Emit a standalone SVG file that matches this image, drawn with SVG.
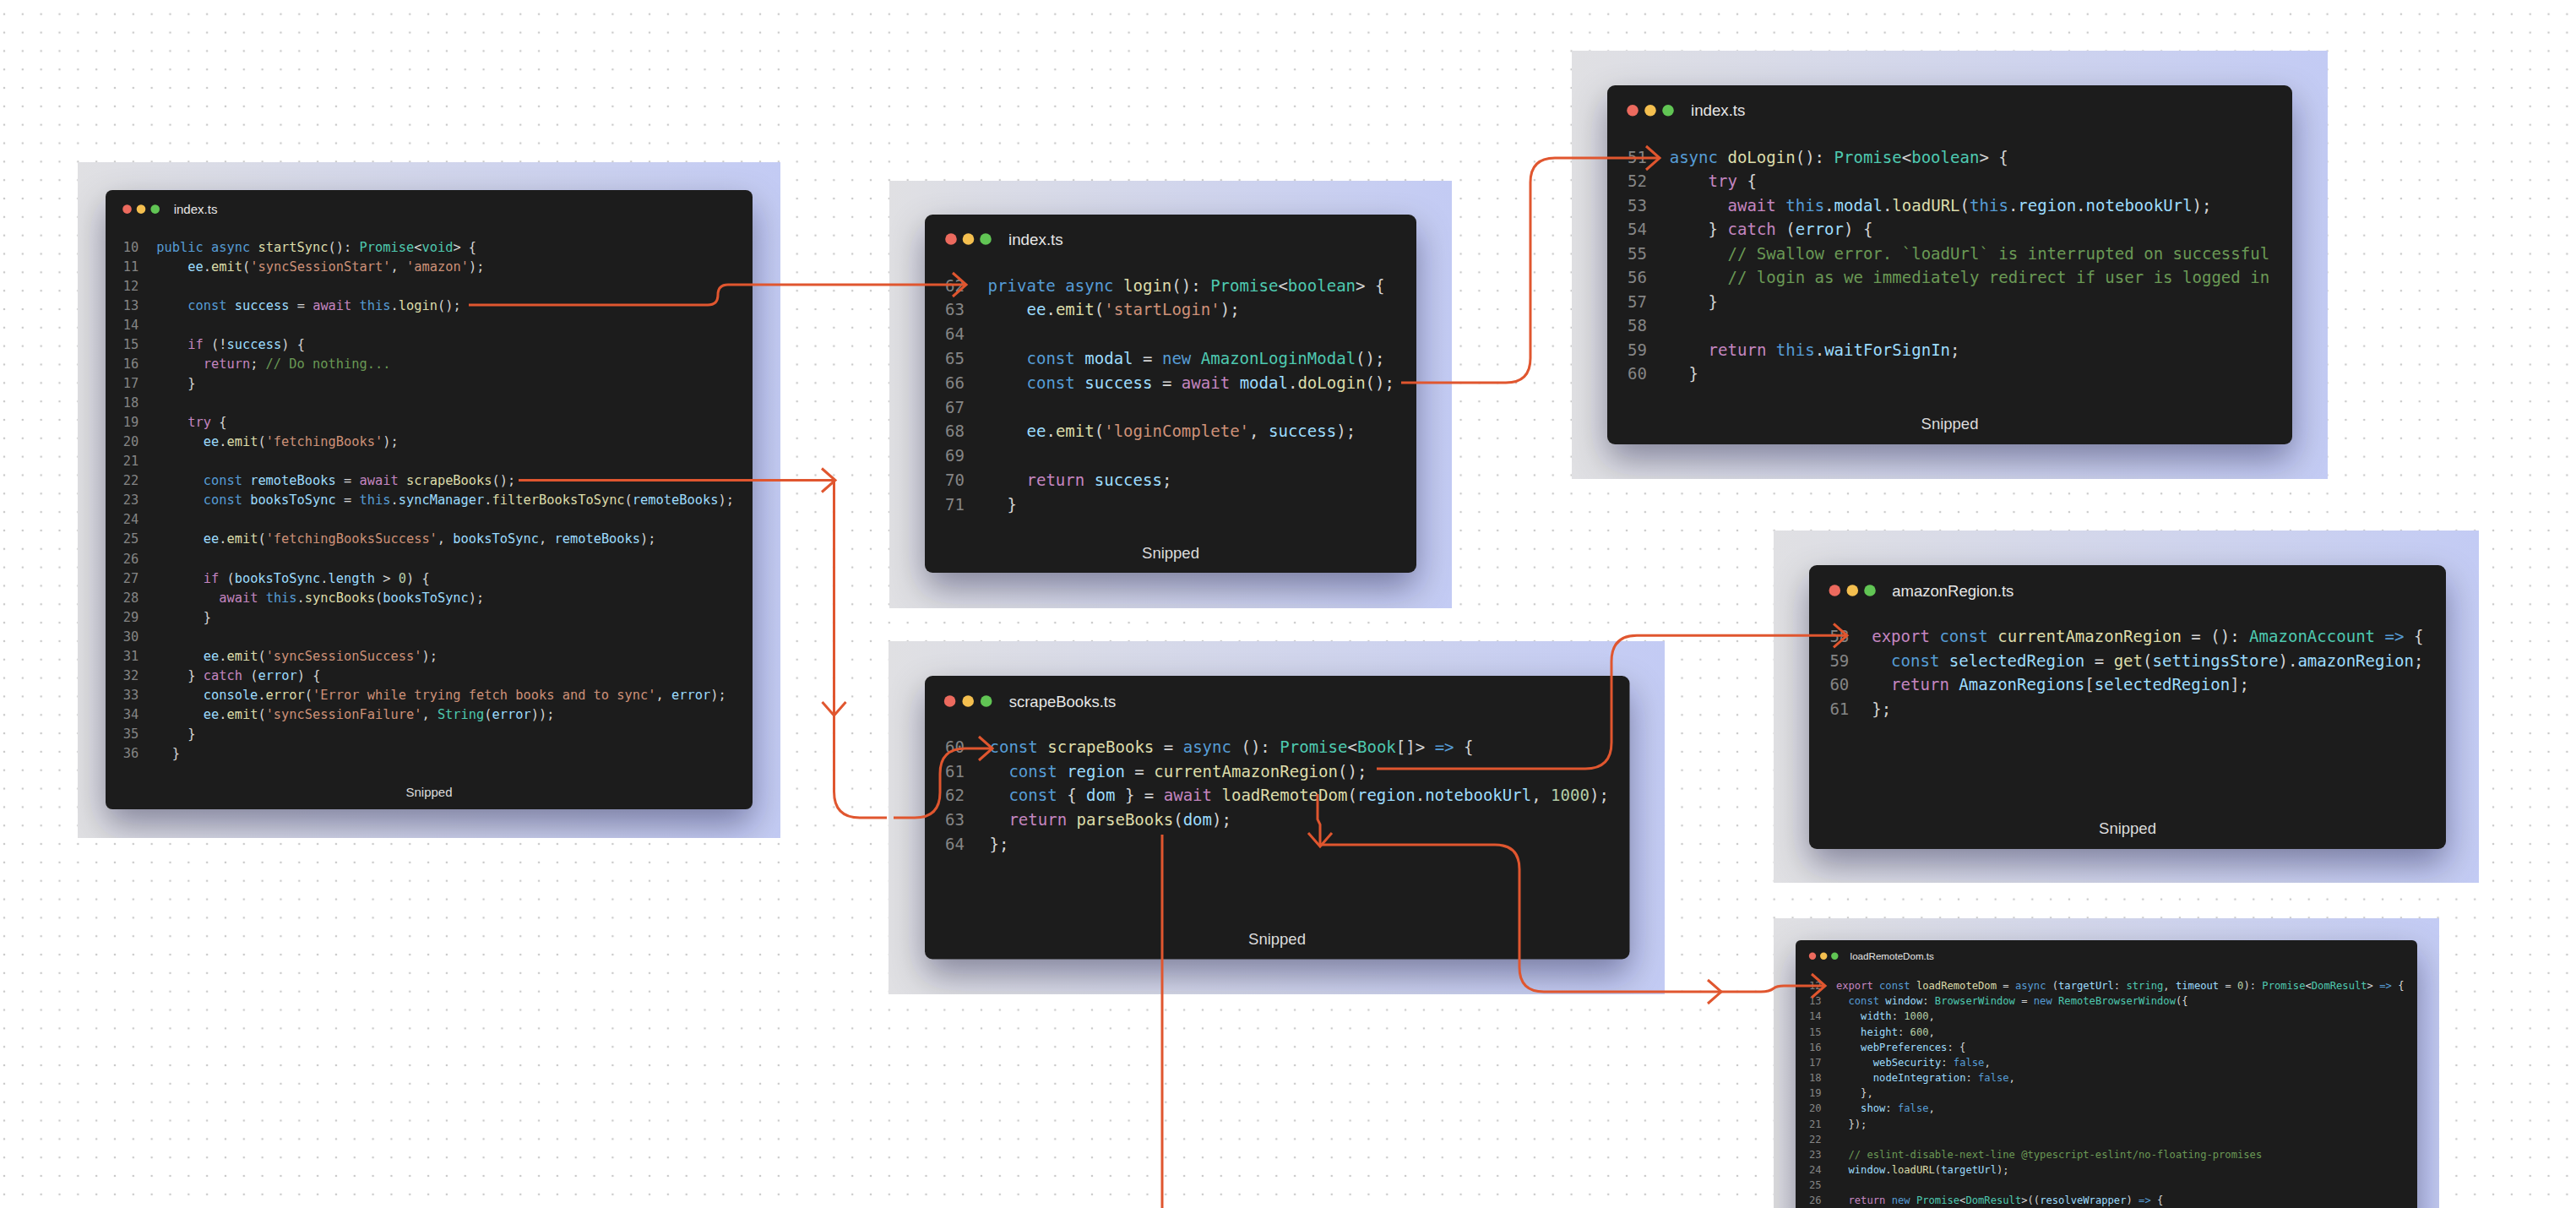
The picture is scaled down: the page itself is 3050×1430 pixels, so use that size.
<svg xmlns="http://www.w3.org/2000/svg" width="3050" height="1430" viewBox="0 0 3050 1430">
<defs>
<pattern id="dots" patternUnits="userSpaceOnUse" x="-5.9" y="5.8" width="21.83" height="21.83"><circle cx="10.9" cy="10.9" r="1.3" fill="#c9c9c9"/></pattern>
<linearGradient id="bg" x1="0" y1="0" x2="1" y2="0"><stop offset="0" stop-color="#e0e0e3"/><stop offset="1" stop-color="#c3cbf4"/></linearGradient>
<filter id="sh" x="-20%" y="-20%" width="140%" height="160%"><feDropShadow dx="0" dy="18" stdDeviation="20" flood-color="#101030" flood-opacity="0.4"/></filter>
<clipPath id="c1"><rect x="92" y="192" width="832" height="800"/></clipPath>
<clipPath id="c2"><rect x="1053" y="214" width="666" height="506"/></clipPath>
<clipPath id="c3"><rect x="1861" y="60" width="895" height="507"/></clipPath>
<clipPath id="c4"><rect x="1052" y="759" width="919" height="418"/></clipPath>
<clipPath id="c5"><rect x="2100" y="628" width="835" height="417"/></clipPath>
<clipPath id="c6"><rect x="2100" y="1087" width="788" height="343"/></clipPath>
<marker id="ah" markerUnits="userSpaceOnUse" viewBox="-20 -20 40 40" refX="0" refY="0" markerWidth="40" markerHeight="40" orient="auto" overflow="visible"><path d="M-16,-14 L0,0 L-16,14" fill="none" stroke="#e0562f" stroke-width="3"/></marker>
</defs>
<style>
.outer{fill:url(#bg)}
.win{fill:#1e1e1e;filter:url(#sh)}
.r{fill:#ec6a5e}.y{fill:#f4bf4f}.g{fill:#61c554}
.title{font-family:"Liberation Sans",Arial,sans-serif;fill:#e6e6e6}
.snip{font-family:"Liberation Sans",Arial,sans-serif;fill:#dcdcdc;text-anchor:middle}
.code{font-family:"DejaVu Sans Mono","Liberation Mono",monospace;fill:#d4d4d4}
.ln{fill:#858585}
.k{fill:#569cd6}.c{fill:#c586c0}.f{fill:#dcdcaa}.t{fill:#4ec9b0}.s{fill:#ce9178}.v{fill:#9cdcfe}.m{fill:#6a9955}.n{fill:#b5cea8}
.conn{fill:none;stroke:#e0562f;stroke-width:3}
</style>
<rect width="3050" height="1430" fill="#ffffff"/>
<rect width="3050" height="1430" fill="url(#dots)"/>

<g id="node-index-startSync">
<rect class="outer" x="92" y="192" width="832" height="800"/>
<g clip-path="url(#c1)"><rect class="win" x="125" y="225" width="766" height="733" rx="8"/></g>
<circle class="r" cx="150.5" cy="247.6" r="5.3"/><circle class="y" cx="167" cy="247.6" r="5.3"/><circle class="g" cx="183.7" cy="247.6" r="5.3"/>
<text class="title" x="205.7" y="253" font-size="15">index.ts</text>
<g class="code" font-size="15.35">
<text class="ln" x="145.7" y="297.5">10</text><text x="185.3" y="297.5"><tspan class="k">public async</tspan> <tspan class="f">startSync</tspan>(): <tspan class="t">Promise</tspan>&lt;<tspan class="t">void</tspan>&gt; {</text>
<text class="ln" x="145.7" y="320.6">11</text><text x="222.3" y="320.6"><tspan class="v">ee</tspan>.<tspan class="f">emit</tspan>(<tspan class="s">'syncSessionStart'</tspan>, <tspan class="s">'amazon'</tspan>);</text>
<text class="ln" x="145.7" y="343.6">12</text>
<text class="ln" x="145.7" y="366.7">13</text><text x="222.3" y="366.7"><tspan class="k">const</tspan> <tspan class="v">success</tspan> = <tspan class="c">await</tspan> <tspan class="k">this</tspan>.<tspan class="f">login</tspan>();</text>
<text class="ln" x="145.7" y="389.7">14</text>
<text class="ln" x="145.7" y="412.8">15</text><text x="222.3" y="412.8"><tspan class="c">if</tspan> (!<tspan class="v">success</tspan>) {</text>
<text class="ln" x="145.7" y="435.9">16</text><text x="240.7" y="435.9"><tspan class="c">return</tspan>; <tspan class="m">// Do nothing...</tspan></text>
<text class="ln" x="145.7" y="458.9">17</text><text x="222.3" y="458.9">}</text>
<text class="ln" x="145.7" y="482">18</text>
<text class="ln" x="145.7" y="505">19</text><text x="222.3" y="505"><tspan class="c">try</tspan> {</text>
<text class="ln" x="145.7" y="528.1">20</text><text x="240.7" y="528.1"><tspan class="v">ee</tspan>.<tspan class="f">emit</tspan>(<tspan class="s">'fetchingBooks'</tspan>);</text>
<text class="ln" x="145.7" y="551.2">21</text>
<text class="ln" x="145.7" y="574.2">22</text><text x="240.7" y="574.2"><tspan class="k">const</tspan> <tspan class="v">remoteBooks</tspan> = <tspan class="c">await</tspan> <tspan class="f">scrapeBooks</tspan>();</text>
<text class="ln" x="145.7" y="597.3">23</text><text x="240.7" y="597.3"><tspan class="k">const</tspan> <tspan class="v">booksToSync</tspan> = <tspan class="k">this</tspan>.<tspan class="v">syncManager</tspan>.<tspan class="f">filterBooksToSync</tspan>(<tspan class="v">remoteBooks</tspan>);</text>
<text class="ln" x="145.7" y="620.3">24</text>
<text class="ln" x="145.7" y="643.4">25</text><text x="240.7" y="643.4"><tspan class="v">ee</tspan>.<tspan class="f">emit</tspan>(<tspan class="s">'fetchingBooksSuccess'</tspan>, <tspan class="v">booksToSync</tspan>, <tspan class="v">remoteBooks</tspan>);</text>
<text class="ln" x="145.7" y="666.5">26</text>
<text class="ln" x="145.7" y="689.5">27</text><text x="240.7" y="689.5"><tspan class="c">if</tspan> (<tspan class="v">booksToSync</tspan>.<tspan class="v">length</tspan> &gt; <tspan class="n">0</tspan>) {</text>
<text class="ln" x="145.7" y="712.6">28</text><text x="259.2" y="712.6"><tspan class="c">await</tspan> <tspan class="k">this</tspan>.<tspan class="f">syncBooks</tspan>(<tspan class="v">booksToSync</tspan>);</text>
<text class="ln" x="145.7" y="735.6">29</text><text x="240.7" y="735.6">}</text>
<text class="ln" x="145.7" y="758.7">30</text>
<text class="ln" x="145.7" y="781.8">31</text><text x="240.7" y="781.8"><tspan class="v">ee</tspan>.<tspan class="f">emit</tspan>(<tspan class="s">'syncSessionSuccess'</tspan>);</text>
<text class="ln" x="145.7" y="804.8">32</text><text x="222.3" y="804.8">} <tspan class="c">catch</tspan> (<tspan class="v">error</tspan>) {</text>
<text class="ln" x="145.7" y="827.9">33</text><text x="240.7" y="827.9"><tspan class="v">console</tspan>.<tspan class="f">error</tspan>(<tspan class="s">'Error while trying fetch books and to sync'</tspan>, <tspan class="v">error</tspan>);</text>
<text class="ln" x="145.7" y="850.9">34</text><text x="240.7" y="850.9"><tspan class="v">ee</tspan>.<tspan class="f">emit</tspan>(<tspan class="s">'syncSessionFailure'</tspan>, <tspan class="t">String</tspan>(<tspan class="v">error</tspan>));</text>
<text class="ln" x="145.7" y="874">35</text><text x="222.3" y="874">}</text>
<text class="ln" x="145.7" y="897.1">36</text><text x="203.8" y="897.1">}</text>
</g>
<text class="snip" x="508" y="943" font-size="15">Snipped</text>
</g>

<g id="node-index-login">
<rect class="outer" x="1053" y="214" width="666" height="506"/>
<g clip-path="url(#c2)"><rect class="win" x="1095" y="254" width="582" height="424" rx="9"/></g>
<circle class="r" cx="1126" cy="283" r="6.8"/><circle class="y" cx="1146.5" cy="283" r="6.8"/><circle class="g" cx="1167" cy="283" r="6.8"/>
<text class="title" x="1194" y="289.6" font-size="18.8">index.ts</text>
<g class="code" font-size="19.05">
<text class="ln" x="1119" y="344.5">62</text><text x="1169.6" y="344.5"><tspan class="k">private async</tspan> <tspan class="f">login</tspan>(): <tspan class="t">Promise</tspan>&lt;<tspan class="t">boolean</tspan>&gt; {</text>
<text class="ln" x="1119" y="373.3">63</text><text x="1215.5" y="373.3"><tspan class="v">ee</tspan>.<tspan class="f">emit</tspan>(<tspan class="s">'startLogin'</tspan>);</text>
<text class="ln" x="1119" y="402.1">64</text>
<text class="ln" x="1119" y="430.9">65</text><text x="1215.5" y="430.9"><tspan class="k">const</tspan> <tspan class="v">modal</tspan> = <tspan class="k">new</tspan> <tspan class="t">AmazonLoginModal</tspan>();</text>
<text class="ln" x="1119" y="459.7">66</text><text x="1215.5" y="459.7"><tspan class="k">const</tspan> <tspan class="v">success</tspan> = <tspan class="c">await</tspan> <tspan class="v">modal</tspan>.<tspan class="f">doLogin</tspan>();</text>
<text class="ln" x="1119" y="488.5">67</text>
<text class="ln" x="1119" y="517.3">68</text><text x="1215.5" y="517.3"><tspan class="v">ee</tspan>.<tspan class="f">emit</tspan>(<tspan class="s">'loginComplete'</tspan>, <tspan class="v">success</tspan>);</text>
<text class="ln" x="1119" y="546.1">69</text>
<text class="ln" x="1119" y="574.9">70</text><text x="1215.5" y="574.9"><tspan class="c">return</tspan> <tspan class="v">success</tspan>;</text>
<text class="ln" x="1119" y="603.7">71</text><text x="1192.5" y="603.7">}</text>
</g>
<text class="snip" x="1386" y="660.5" font-size="18.5">Snipped</text>
</g>

<g id="node-index-doLogin">
<rect class="outer" x="1861" y="60" width="895" height="507"/>
<g clip-path="url(#c3)"><rect class="win" x="1903" y="101" width="811" height="425" rx="9"/></g>
<circle class="r" cx="1933" cy="130.7" r="6.8"/><circle class="y" cx="1954" cy="130.7" r="6.8"/><circle class="g" cx="1975" cy="130.7" r="6.8"/>
<text class="title" x="2002" y="137.3" font-size="18.7">index.ts</text>
<g class="code" font-size="19.05">
<text class="ln" x="1927" y="192.8">51</text><text x="1976.7" y="192.8"><tspan class="k">async</tspan> <tspan class="f">doLogin</tspan>(): <tspan class="t">Promise</tspan>&lt;<tspan class="t">boolean</tspan>&gt; {</text>
<text class="ln" x="1927" y="221.3">52</text><text x="2022.6" y="221.3"><tspan class="c">try</tspan> {</text>
<text class="ln" x="1927" y="249.8">53</text><text x="2045.5" y="249.8"><tspan class="c">await</tspan> <tspan class="k">this</tspan>.<tspan class="v">modal</tspan>.<tspan class="f">loadURL</tspan>(<tspan class="k">this</tspan>.<tspan class="v">region</tspan>.<tspan class="v">notebookUrl</tspan>);</text>
<text class="ln" x="1927" y="278.3">54</text><text x="2022.6" y="278.3">} <tspan class="c">catch</tspan> (<tspan class="v">error</tspan>) {</text>
<text class="ln" x="1927" y="306.8">55</text><text x="2045.5" y="306.8"><tspan class="m">// Swallow error. `loadUrl` is interrupted on successful</tspan></text>
<text class="ln" x="1927" y="335.3">56</text><text x="2045.5" y="335.3"><tspan class="m">// login as we immediately redirect if user is logged in</tspan></text>
<text class="ln" x="1927" y="363.8">57</text><text x="2022.6" y="363.8">}</text>
<text class="ln" x="1927" y="392.3">58</text>
<text class="ln" x="1927" y="420.8">59</text><text x="2022.6" y="420.8"><tspan class="c">return</tspan> <tspan class="k">this</tspan>.<tspan class="v">waitForSignIn</tspan>;</text>
<text class="ln" x="1927" y="449.3">60</text><text x="1999.6" y="449.3">}</text>
</g>
<text class="snip" x="2308.5" y="508" font-size="18.5">Snipped</text>
</g>

<g id="node-scrapeBooks">
<rect class="outer" x="1052" y="759" width="919" height="418"/>
<g clip-path="url(#c4)"><rect class="win" x="1095" y="800" width="834.5" height="335.5" rx="9"/></g>
<circle class="r" cx="1124.6" cy="830" r="6.8"/><circle class="y" cx="1146.2" cy="830" r="6.8"/><circle class="g" cx="1167.7" cy="830" r="6.8"/>
<text class="title" x="1194.7" y="836.5" font-size="18.5">scrapeBooks.ts</text>
<g class="code" font-size="19.05">
<text class="ln" x="1119" y="890.8">60</text><text x="1171.5" y="890.8"><tspan class="k">const</tspan> <tspan class="f">scrapeBooks</tspan> = <tspan class="k">async</tspan> (): <tspan class="t">Promise</tspan>&lt;<tspan class="t">Book</tspan>[]&gt; <tspan class="k">=&gt;</tspan> {</text>
<text class="ln" x="1119" y="919.6">61</text><text x="1194.4" y="919.6"><tspan class="k">const</tspan> <tspan class="v">region</tspan> = <tspan class="f">currentAmazonRegion</tspan>();</text>
<text class="ln" x="1119" y="948.3">62</text><text x="1194.4" y="948.3"><tspan class="k">const</tspan> { <tspan class="v">dom</tspan> } = <tspan class="c">await</tspan> <tspan class="f">loadRemoteDom</tspan>(<tspan class="v">region</tspan>.<tspan class="v">notebookUrl</tspan>, <tspan class="n">1000</tspan>);</text>
<text class="ln" x="1119" y="977.1">63</text><text x="1194.4" y="977.1"><tspan class="c">return</tspan> <tspan class="f">parseBooks</tspan>(<tspan class="v">dom</tspan>);</text>
<text class="ln" x="1119" y="1005.8">64</text><text x="1171.5" y="1005.8">};</text>
</g>
<text class="snip" x="1512" y="1117.5" font-size="18.5">Snipped</text>
</g>

<g id="node-amazonRegion">
<rect class="outer" x="2100" y="628" width="835" height="417"/>
<g clip-path="url(#c5)"><rect class="win" x="2142" y="669" width="754" height="336" rx="9"/></g>
<circle class="r" cx="2172.3" cy="699" r="6.8"/><circle class="y" cx="2193.3" cy="699" r="6.8"/><circle class="g" cx="2214" cy="699" r="6.8"/>
<text class="title" x="2240.3" y="705.5" font-size="18.5">amazonRegion.ts</text>
<g class="code" font-size="19.05">
<text class="ln" x="2166.4" y="760">58</text><text x="2216.2" y="760"><tspan class="c">export</tspan> <tspan class="k">const</tspan> <tspan class="f">currentAmazonRegion</tspan> = (): <tspan class="t">AmazonAccount</tspan> <tspan class="k">=&gt;</tspan> {</text>
<text class="ln" x="2166.4" y="788.7">59</text><text x="2239.1" y="788.7"><tspan class="k">const</tspan> <tspan class="v">selectedRegion</tspan> = <tspan class="f">get</tspan>(<tspan class="v">settingsStore</tspan>).<tspan class="v">amazonRegion</tspan>;</text>
<text class="ln" x="2166.4" y="817.3">60</text><text x="2239.1" y="817.3"><tspan class="c">return</tspan> <tspan class="v">AmazonRegions</tspan>[<tspan class="v">selectedRegion</tspan>];</text>
<text class="ln" x="2166.4" y="846">61</text><text x="2216.2" y="846">};</text>
</g>
<text class="snip" x="2519" y="986.5" font-size="18.5">Snipped</text>
</g>

<g id="node-loadRemoteDom">
<rect class="outer" x="2100" y="1087" width="788" height="343"/>
<g clip-path="url(#c6)"><rect class="win" x="2126" y="1113" width="736" height="400" rx="6"/></g>
<circle class="r" cx="2146" cy="1131.7" r="4.2"/><circle class="y" cx="2159.2" cy="1131.7" r="4.2"/><circle class="g" cx="2172.3" cy="1131.7" r="4.2"/>
<text class="title" x="2190.6" y="1135.8" font-size="11.6">loadRemoteDom.ts</text>
<g class="code" font-size="12.15">
<text class="ln" x="2142" y="1171">12</text><text x="2173.9" y="1171"><tspan class="c">export</tspan> <tspan class="k">const</tspan> <tspan class="f">loadRemoteDom</tspan> = <tspan class="k">async</tspan> (<tspan class="v">targetUrl</tspan>: <tspan class="t">string</tspan>, <tspan class="v">timeout</tspan> = <tspan class="n">0</tspan>): <tspan class="t">Promise</tspan>&lt;<tspan class="t">DomResult</tspan>&gt; <tspan class="k">=&gt;</tspan> {</text>
<text class="ln" x="2142" y="1189.2">13</text><text x="2188.5" y="1189.2"><tspan class="k">const</tspan> <tspan class="v">window</tspan>: <tspan class="t">BrowserWindow</tspan> = <tspan class="k">new</tspan> <tspan class="t">RemoteBrowserWindow</tspan>({</text>
<text class="ln" x="2142" y="1207.3">14</text><text x="2203.1" y="1207.3"><tspan class="v">width</tspan>: <tspan class="n">1000</tspan>,</text>
<text class="ln" x="2142" y="1225.5">15</text><text x="2203.1" y="1225.5"><tspan class="v">height</tspan>: <tspan class="n">600</tspan>,</text>
<text class="ln" x="2142" y="1243.7">16</text><text x="2203.1" y="1243.7"><tspan class="v">webPreferences</tspan>: {</text>
<text class="ln" x="2142" y="1261.9">17</text><text x="2217.8" y="1261.9"><tspan class="v">webSecurity</tspan>: <tspan class="k">false</tspan>,</text>
<text class="ln" x="2142" y="1280">18</text><text x="2217.8" y="1280"><tspan class="v">nodeIntegration</tspan>: <tspan class="k">false</tspan>,</text>
<text class="ln" x="2142" y="1298.2">19</text><text x="2203.1" y="1298.2">},</text>
<text class="ln" x="2142" y="1316.4">20</text><text x="2203.1" y="1316.4"><tspan class="v">show</tspan>: <tspan class="k">false</tspan>,</text>
<text class="ln" x="2142" y="1334.5">21</text><text x="2188.5" y="1334.5">});</text>
<text class="ln" x="2142" y="1352.7">22</text>
<text class="ln" x="2142" y="1370.9">23</text><text x="2188.5" y="1370.9"><tspan class="m">// eslint-disable-next-line @typescript-eslint/no-floating-promises</tspan></text>
<text class="ln" x="2142" y="1389">24</text><text x="2188.5" y="1389"><tspan class="v">window</tspan>.<tspan class="f">loadURL</tspan>(<tspan class="v">targetUrl</tspan>);</text>
<text class="ln" x="2142" y="1407.2">25</text>
<text class="ln" x="2142" y="1425.4">26</text><text x="2188.5" y="1425.4"><tspan class="c">return</tspan> <tspan class="k">new</tspan> <tspan class="t">Promise</tspan>&lt;<tspan class="t">DomResult</tspan>&gt;((<tspan class="v">resolveWrapper</tspan>) <tspan class="k">=&gt;</tspan> {</text>
</g>
</g>

<g id="connectors">
<path class="conn" d="M555,361 H838 Q850,361 850,349 Q850,337 862,337 H1144" marker-end="url(#ah)"/>
<path class="conn" d="M1659,453 H1783 Q1812,453 1812,424 V216 Q1812,187 1841,187 H1965" marker-end="url(#ah)"/>
<path class="conn" d="M614,568.5 H989" marker-end="url(#ah)"/>
<path class="conn" d="M987.5,568.5 V847" marker-end="url(#ah)"/>
<path class="conn" d="M987.5,847 V937 Q987.5,968 1018,968 H1050"/>
<path class="conn" d="M1058,968 H1083 Q1113,968 1113,938 V916 Q1113,886 1143,886 H1175" marker-end="url(#ah)"/>
<path class="conn" d="M1630,910 H1877 Q1908,910 1908,879 V783 Q1908,752.3 1938,752.3 H2187" marker-end="url(#ah)"/>
<path class="conn" d="M1560,940 V970 L1563,976 V1002" marker-end="url(#ah)"/>
<path class="conn" d="M1563,1000 H1770 Q1799,1000 1799,1029 V1145 Q1799,1174 1828,1174 H2038" marker-end="url(#ah)"/>
<path class="conn" d="M2038,1174 H2085 Q2095,1174 2100,1170 Q2104,1167 2112,1167 H2161" marker-end="url(#ah)"/>
<path class="conn" d="M1376,988 V1430"/>
</g>
</svg>
